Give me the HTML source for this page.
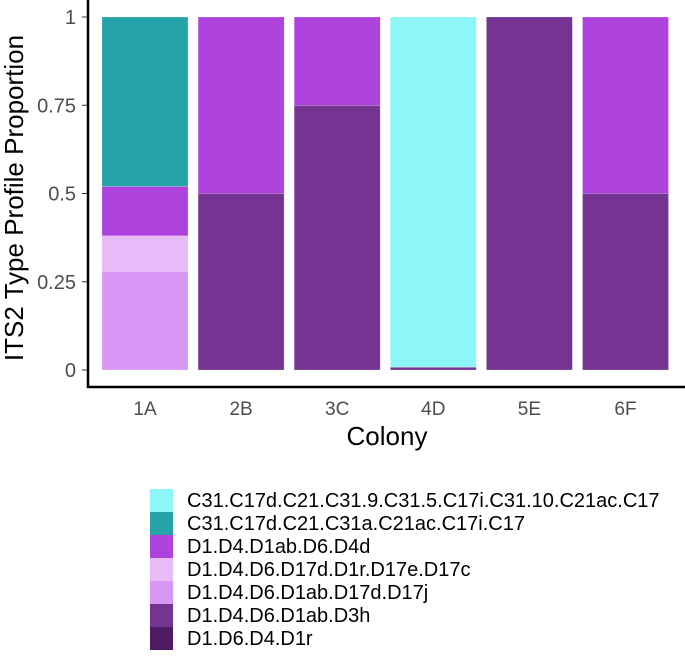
<!DOCTYPE html>
<html><head><meta charset="utf-8"><style>
body{margin:0;background:#fff;}
svg text{font-family:"Liberation Sans",Arial,sans-serif;}
</style></head><body>
<svg id="c" width="685" height="653" xmlns="http://www.w3.org/2000/svg"></svg>
<script>
const categories=["1A","2B","3C","4D","5E","6F"];
const profiles=["C31.C17d.C21.C31.9.C31.5.C17i.C31.10.C21ac.C17","C31.C17d.C21.C31a.C21ac.C17i.C17","D1.D4.D1ab.D6.D4d","D1.D4.D6.D17d.D1r.D17e.D17c","D1.D4.D6.D1ab.D17d.D17j","D1.D4.D6.D1ab.D3h","D1.D6.D4.D1r"];
const colors=["#8ef5f8","#26a3a8","#ae42dc","#e8baf7","#d896f5","#763492","#4e1a63"];
// stacking order bottom -> top
const stackOrder=[6,5,4,3,2,1,0];
const values=[
 [0,0.48,0.14,0.10,0.28,0,0],
 [0,0,0.5,0,0,0.5,0],
 [0,0,0.25,0,0,0.75,0],
 [0.992,0,0,0,0,0.008,0],
 [0,0,0,0,0,1,0],
 [0,0,0.5,0,0,0.5,0]
];
const yTicks=[0,0.25,0.5,0.75,1];
const yTickLabels=["0","0.25","0.5","0.75","1"];
const NS="http://www.w3.org/2000/svg";
const svg=document.getElementById('c');
function mk(t,a,p){const e=document.createElementNS(NS,t);for(const k in a)e.setAttribute(k,a[k]);(p||svg).appendChild(e);return e;}
const y0=370,y1=17;
function yS(v){return y0-(y0-y1)*v;}
const bx0=145,bstep=96.1,bw=86;
function xS(i){return bx0+i*bstep;}
categories.forEach((c,i)=>{
  const g=mk('g',{});
  
  
  let acc=0;
  stackOrder.forEach(k=>{
    const v=values[i][k];if(v<=0)return;
    const r=mk('rect',{x:xS(i)-bw/2,y:yS(acc+v),width:bw,height:yS(acc)-yS(acc+v),fill:colors[k],stroke:'rgba(255,255,255,0.35)','stroke-width':0.6},g);
    
    
    acc+=v;
  });
  const t=mk('text',{x:xS(i),y:415,'font-size':19,fill:'#4d4d4d','text-anchor':'middle'});
  t.textContent=c;
  
  
});
yTicks.forEach((v,i)=>{
  mk('line',{x1:82,x2:87,y1:yS(v),y2:yS(v),stroke:'#333','stroke-width':1});
  const t=mk('text',{x:76,y:yS(v)+7,'font-size':20,fill:'#4d4d4d','text-anchor':'end'});
  t.textContent=yTickLabels[i];
  
  
});
const ax=mk('path',{d:'M88,0 V387 H685',fill:'none',stroke:'#000','stroke-width':2.5});


const xt=mk('text',{x:387,y:445,'font-size':26,'text-anchor':'middle',fill:'#000'});
xt.textContent='Colony';


const yt=mk('text',{x:0,y:0,'font-size':26,'text-anchor':'middle',fill:'#000',transform:'translate(23,198) rotate(-90)'});
yt.textContent='ITS2 Type Profile Proportion';


profiles.forEach((p,i)=>{
  const g=mk('g',{});
  
  
  mk('rect',{x:150,y:489+i*23,width:23,height:23,fill:colors[i]},g);
  const t=mk('text',{x:187,y:507+i*23,'font-size':20,fill:'#000'},g);
  t.textContent=p;
});
</script>
</body></html>
